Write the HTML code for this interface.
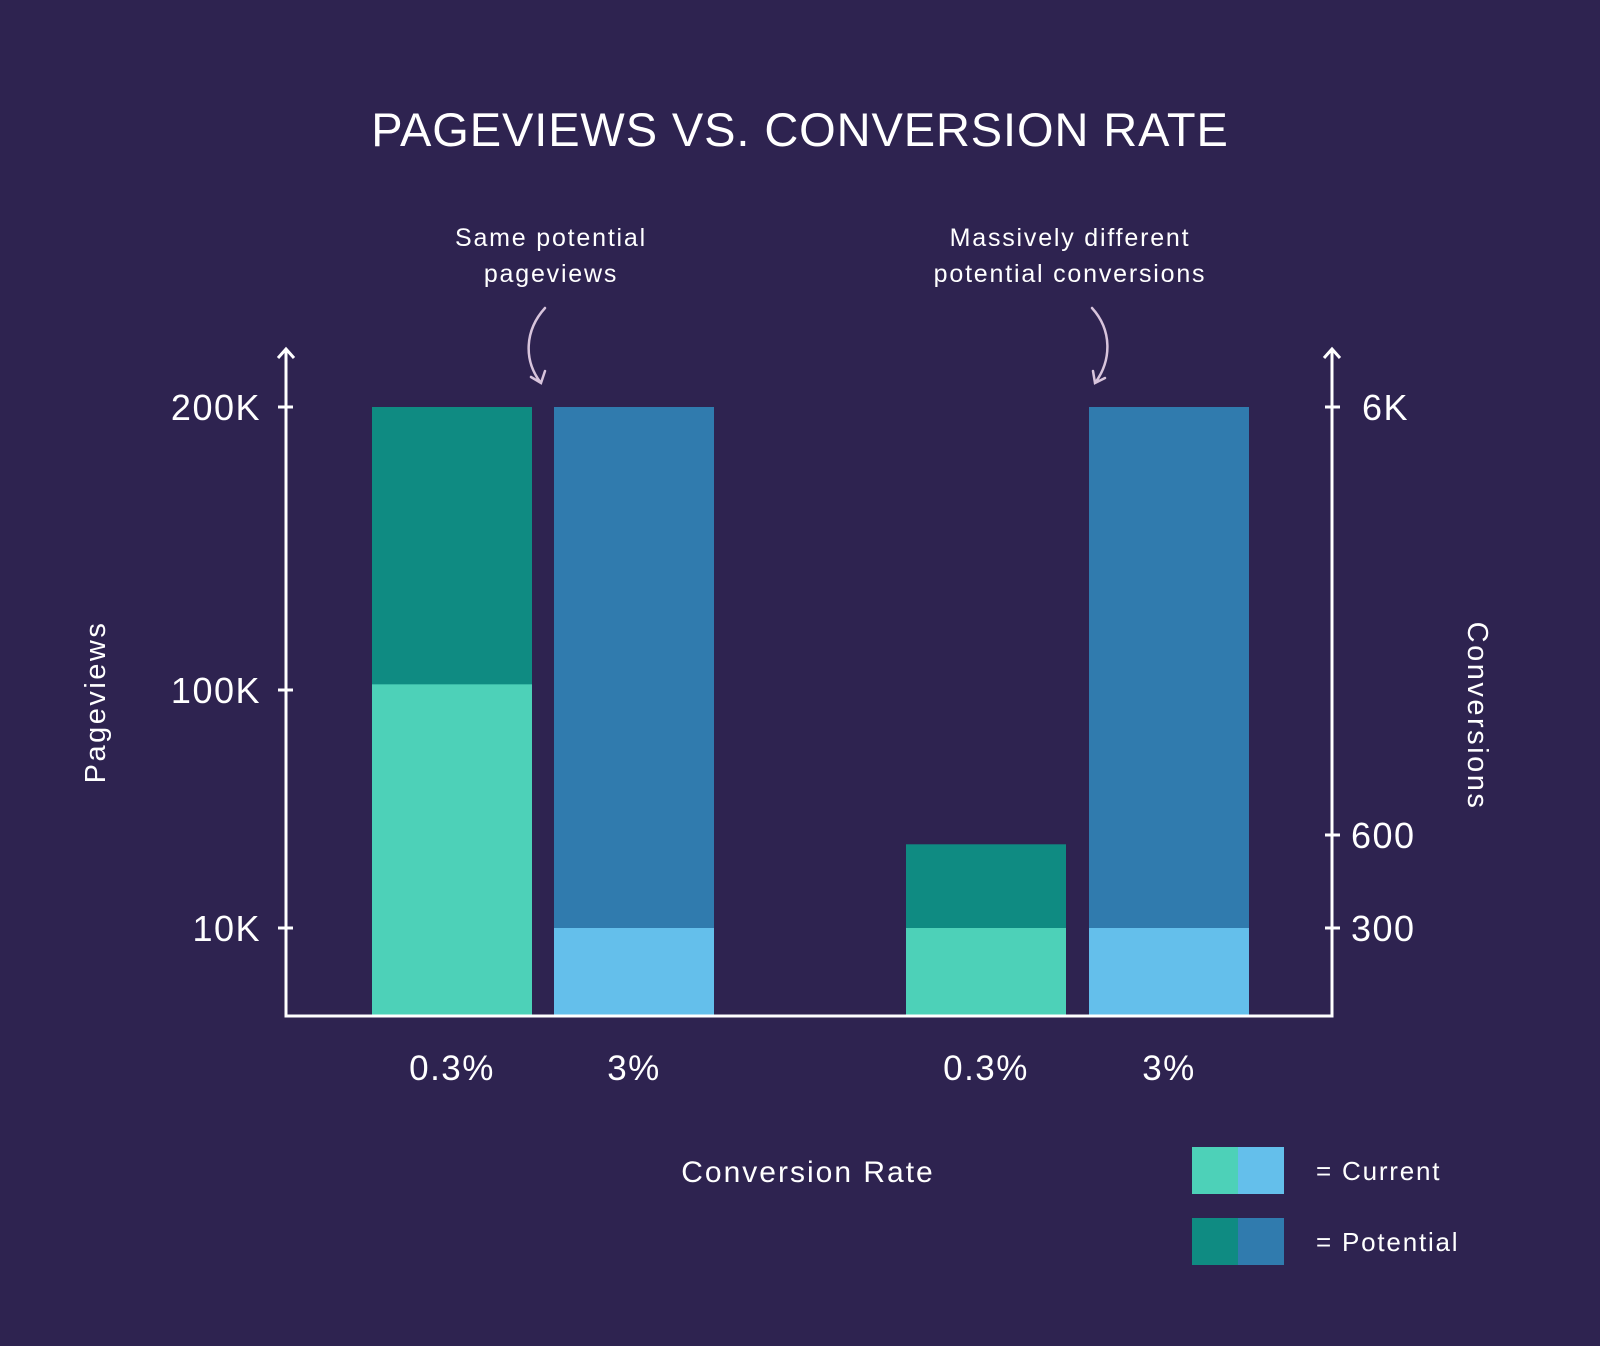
<!DOCTYPE html>
<html><head><meta charset="utf-8"><style>
html,body{margin:0;padding:0;background:#2e2350;}
svg{display:block;font-family:"Liberation Sans",sans-serif;}
</style></head><body>
<svg id="chart" width="1600" height="1346" viewBox="0 0 1600 1346" xmlns="http://www.w3.org/2000/svg">
<rect width="1600" height="1346" fill="#2e2350"/>
<text x="800" y="146" text-anchor="middle" fill="#fff" font-size="47" letter-spacing="0.9">PAGEVIEWS VS. CONVERSION RATE</text>
<g fill="#fff" font-size="25" text-anchor="middle" letter-spacing="1.8">
<text x="551" y="246"><tspan x="551">Same potential</tspan><tspan x="551" dy="36">pageviews</tspan></text>
<text x="1070" y="246"><tspan x="1070">Massively different</tspan><tspan x="1070" dy="36">potential conversions</tspan></text>
</g>
<g fill="none" stroke="#d8c4dc" stroke-width="2.5" stroke-linecap="round">
<path d="M545 308 C525 330 523 360 541 383 M531 377 L541 383 L545 371"/>
<path d="M1092 308 C1112 330 1112 360 1095 383 M1105 378 L1095 383 L1093 371"/>
</g>
<g id="bars"></g>
<g stroke="#fff" stroke-width="3" fill="none">
<path d="M286 350 L286 1016 L1332 1016 L1332 350"/>
<path d="M278 358 L286 349 L294 358"/>
<path d="M1324 358 L1332 349 L1340 358"/>
</g>
<g id="ticks" fill="#fff" font-size="36" letter-spacing="1.5"></g>
<text transform="translate(105,702) rotate(-90)" text-anchor="middle" fill="#fff" font-size="29" letter-spacing="2.5">Pageviews</text>
<text transform="translate(1468,716) rotate(90)" text-anchor="middle" fill="#fff" font-size="29" letter-spacing="2.5">Conversions</text>
<text x="808" y="1182" text-anchor="middle" fill="#fff" font-size="30" letter-spacing="2">Conversion Rate</text>
<g>
<rect x="1192" y="1147" width="46" height="47" fill="#4dd1b8"/>
<rect x="1238" y="1147" width="46" height="47" fill="#64bfeb"/>
<rect x="1192" y="1218" width="46" height="47" fill="#0f8b82"/>
<rect x="1238" y="1218" width="46" height="47" fill="#307bae"/>
<text x="1316" y="1180" fill="#fff" font-size="26" letter-spacing="1.8">= Current</text>
<text x="1316" y="1251" fill="#fff" font-size="26" letter-spacing="1.8">= Potential</text>
</g>
</svg>
<script>
const categories = ["0.3%", "3%", "0.3%", "3%"];
const axisSide = ["left", "left", "right", "right"];
const currentValues = [102000, 10000, 300, 300];
const potentialValues = [200000, 200000, 570, 6000];
const leftTickValues = [10000, 100000, 200000];
const leftTickLabels = ["10K", "100K", "200K"];
const rightTickValues = [300, 600, 6000];
const rightTickLabels = ["300", "600", "6K"];

const leftDom = [0, 10000, 100000, 200000], leftRng = [1016, 928, 690, 407];
const rightDom = [0, 300, 600, 6000], rightRng = [1016, 928, 835, 407];
function piece(v, d, r) {
  for (let i = 1; i < d.length; i++) {
    if (v <= d[i] || i === d.length - 1) {
      const t = (v - d[i-1]) / (d[i] - d[i-1]);
      return r[i-1] + t * (r[i] - r[i-1]);
    }
  }
}
function yLeft(v) { return piece(v, leftDom, leftRng); }
function yRight(v) { return piece(v, rightDom, rightRng); }
const barW = 160;
function xBand(i) { return [372, 554, 906, 1089][i]; }
const NS = "http://www.w3.org/2000/svg";
const bars = document.getElementById("bars");
const ticks = document.getElementById("ticks");
const curCol = ["#4dd1b8", "#64bfeb", "#4dd1b8", "#64bfeb"];
const potCol = ["#0f8b82", "#307bae", "#0f8b82", "#307bae"];
categories.forEach((c, i) => {
  const y = axisSide[i] === "left" ? yLeft : yRight;
  const x = xBand(i);
  const pTop = y(potentialValues[i]), cTop = y(currentValues[i]);
  const p = document.createElementNS(NS, "rect");
  p.setAttribute("x", x); p.setAttribute("y", pTop); p.setAttribute("width", barW); p.setAttribute("height", 1016 - pTop); p.setAttribute("fill", potCol[i]);
  
  
  bars.appendChild(p);
  const r = document.createElementNS(NS, "rect");
  r.setAttribute("x", x); r.setAttribute("y", cTop); r.setAttribute("width", barW); r.setAttribute("height", 1016 - cTop); r.setAttribute("fill", curCol[i]);
  
  
  bars.appendChild(r);
  const t = document.createElementNS(NS, "text");
  t.setAttribute("x", x + barW / 2); t.setAttribute("y", 1080); t.setAttribute("text-anchor", "middle"); t.setAttribute("font-size", "35"); t.setAttribute("letter-spacing", "1.5");
  t.textContent = c;
  
  
  ticks.appendChild(t);
});
leftTickValues.forEach((v, i) => {
  const y = yLeft(v);
  const l = document.createElementNS(NS, "line");
  l.setAttribute("x1", 278); l.setAttribute("x2", 293); l.setAttribute("y1", y); l.setAttribute("y2", y); l.setAttribute("stroke", "#fff"); l.setAttribute("stroke-width", "3");
  
  
  ticks.appendChild(l);
  const t = document.createElementNS(NS, "text");
  t.setAttribute("x", 261); t.setAttribute("y", y + 13); t.setAttribute("text-anchor", "end");
  t.textContent = leftTickLabels[i];
  
  
  ticks.appendChild(t);
});
rightTickValues.forEach((v, i) => {
  const y = yRight(v);
  const l = document.createElementNS(NS, "line");
  l.setAttribute("x1", 1325); l.setAttribute("x2", 1340); l.setAttribute("y1", y); l.setAttribute("y2", y); l.setAttribute("stroke", "#fff"); l.setAttribute("stroke-width", "3");
  
  
  ticks.appendChild(l);
  const t = document.createElementNS(NS, "text");
  t.setAttribute("x", v >= 1000 ? 1362 : 1351); t.setAttribute("y", y + 13);
  t.textContent = rightTickLabels[i];
  
  
  ticks.appendChild(t);
});
</script>
</body></html>
